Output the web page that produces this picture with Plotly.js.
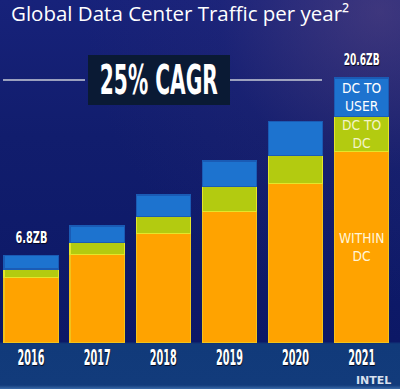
<!DOCTYPE html>
<html><head><meta charset="utf-8">
<script src="https://cdn.plot.ly/plotly-3.0.1.min.js"></script>
<style>
html,body{margin:0;padding:0;}
#wrap{width:400px;height:389px;position:relative;overflow:hidden;
background:
 radial-gradient(ellipse at 95% 3%, rgba(110,80,130,0.45) 0%, rgba(60,50,120,0.15) 30%, rgba(0,0,0,0) 55%),
 linear-gradient(to bottom,#17227a 0%,#111d6d 35%,#0c1866 87.8%,#113a7a 88.4%,#123b7b 99%,#3a6aa8 100%);}
#chart{width:400px;height:389px;}
</style></head>
<body><div id="wrap"><div id="chart"></div></div>
<script>
const years = ['2016','2017','2018','2019','2020','2021'];
const withinDC = [5.1, 6.9, 8.5, 10.2, 12.4, 14.9];
const dcToDC   = [0.65, 0.9, 1.35, 1.95, 2.2, 2.7];
const dcToUser = [1.05, 1.3, 1.65, 2.0, 2.6, 3.0];
const seriesNames = ['WITHIN<br>DC', 'DC TO<br>DC', 'DC TO<br>USER'];
const totalLabels = {'2016':'6.8ZB', '2021':'20.6ZB'};
const titleText = 'Global Data Center Traffic per year²';
const cagrText = '25% CAGR';
const sourceText = 'INTEL';

const lastOnly = (s) => years.map((y,i)=> i===years.length-1 ? s : '');
const cond = 'DejaVu Sans, sans-serif';
const shadow = '1px 1px 1px rgba(0,0,20,0.9)';

function barTrace(vals, name, fill, line, tcolor){
  return {type:'bar', x:years, y:vals, name:name,
    marker:{color:fill, line:{color:line, width:1.2}},
    text:lastOnly(name), textposition:'inside', insidetextanchor:'middle',
    textangle:0, constraintext:'none',
    textfont:{family:cond, size:14, color:tcolor},
    hoverinfo:'skip'};
}
const data = [
  barTrace(withinDC, seriesNames[0], '#FFA300', '#F2C21A', '#FFF6DA'),
  barTrace(dcToDC, seriesNames[1], '#B3CB10', '#E4E62A', '#F4F4C8'),
  barTrace(dcToUser, seriesNames[2], '#1D73CF', '#1A5BB5', '#FFFFFF')
];
const totals = years.map((y,i)=> withinDC[i]+dcToDC[i]+dcToUser[i]);
const annotations = years.filter(y=>totalLabels[y]).map(y=>({
  x:years.indexOf(y), y:totals[years.indexOf(y)], xref:'x', yref:'y', text:'<b>'+totalLabels[y]+'</b>',
  showarrow:false, yanchor:'bottom', yshift:7,
  font:{family:cond, size:15, color:'#FFFFFF', shadow:shadow}
}));
annotations.push({xref:'paper', yref:'paper', x:(159/400), y:(343-80)/283, text:'<b>'+cagrText+'</b>',
  showarrow:false, xanchor:'center', yanchor:'middle', font:{family:cond, size:40, color:'#FFFFFF'}});
annotations.push({xref:'paper', yref:'paper', x:393/400, y:(343-380)/283, text:'<b>'+sourceText+'</b>',
  showarrow:false, xanchor:'right', yanchor:'middle', font:{family:'DejaVu Sans, sans-serif', size:11, color:'#D8E0EE'}});

const layout = {
  width:400, height:389,
  margin:{l:0, r:0, t:60, b:46, pad:0},
  paper_bgcolor:'rgba(0,0,0,0)', plot_bgcolor:'rgba(0,0,0,0)',
  barmode:'stack', bargap:0.18, showlegend:false,
  title:{text:titleText, x:11/400, xref:'paper', xanchor:'left', y:0.982, yref:'container', yanchor:'top',
    font:{family:'Open Sans, Noto Sans, sans-serif', size:20.5, color:'#FFFFFF'}},
  xaxis:{type:'category', range:[-0.469, 5.58], showgrid:false, zeroline:false, showline:false,
    ticks:'', tickfont:{family:cond, size:21, color:'#FFFFFF', weight:'bold', shadow:shadow}, fixedrange:true},
  yaxis:{range:[0,22], visible:false, fixedrange:true},
  shapes:[
    {type:'rect', xref:'paper', yref:'paper', x0:88/400, x1:230/400, y0:(343-105)/283, y1:(343-55)/283,
      fillcolor:'#0A1A34', line:{width:0}, layer:'below'},
    {type:'line', xref:'paper', yref:'paper', x0:3/400, x1:85/400, y0:(343-80)/283, y1:(343-80)/283,
      line:{color:'#C8CCD8', width:1.5}},
    {type:'line', xref:'paper', yref:'paper', x0:230/400, x1:322/400, y0:(343-80)/283, y1:(343-80)/283,
      line:{color:'#C8CCD8', width:1.5}}
  ],
  annotations:annotations
};
Plotly.newPlot('chart', data, layout, {displayModeBar:false, staticPlot:true}).then(gd=>{
  const squeeze = (el, w) => { el.setAttribute('textLength', w); el.setAttribute('lengthAdjust','spacingAndGlyphs'); };
  gd.querySelectorAll('.xtick text').forEach(t=>squeeze(t, 27));
  gd.querySelectorAll('.annotation-text').forEach(t=>{
    const s = t.textContent;
    if (s === cagrText) squeeze(t, 118);
    else if (s === totalLabels['2016']) squeeze(t, 32);
    else if (s === totalLabels['2021']) squeeze(t, 36);
  });
  gd.querySelectorAll('.bartext').forEach(t=>{
    t.querySelectorAll('tspan.line').forEach(sp=>{
      const w = sp.getComputedTextLength();
      if (w > 0) { sp.setAttribute('textLength', (w*0.88).toFixed(1)); sp.setAttribute('lengthAdjust','spacingAndGlyphs'); }
    });
  });
});
</script></body></html>
